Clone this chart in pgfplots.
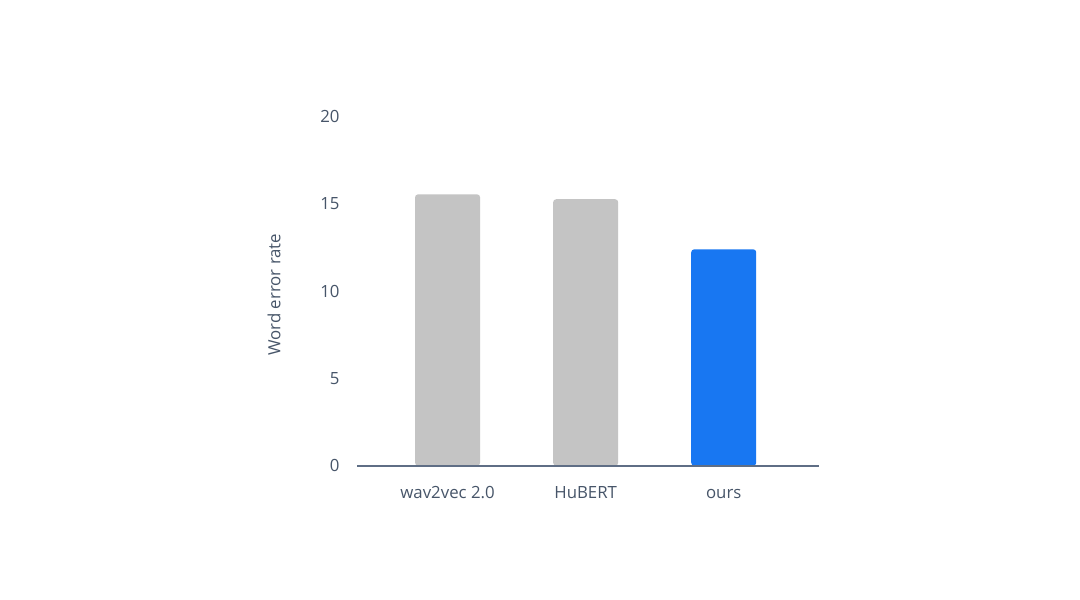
\documentclass[border=0pt]{standalone}
\usepackage{pgfplots}
\pgfplotsset{compat=1.18}
\usepackage{fontspec}
\setmainfont{Open Sans}
\definecolor{txt}{HTML}{475569}
\definecolor{axln}{HTML}{5F6E85}
\definecolor{barg}{HTML}{C4C4C4}
\definecolor{barb}{HTML}{1877F2}
\begin{document}
\begin{tikzpicture}
% canvas: 1 px = 0.5pt, axis box lower-left sits at pixel (357,465.7)
\path[use as bounding box, fill=white] (-178.5pt,-66.65pt) rectangle (361.5pt,232.85pt);
\begin{axis}[
  at={(0,0)}, anchor=south west,
  scale only axis,
  width=231pt, height=174.5pt,
  xmin=-0.656, xmax=2.69,
  ymin=0, ymax=20,
  ytick={0,5,10,15,20},
  xtick={0,1,2},
  xticklabels={wav2vec 2.0, HuBERT, ours},
  /pgf/number format/assume math mode=true,
  axis x line*=bottom, axis y line*=left,
  x axis line style={draw=axln, line width=1pt},
  y axis line style={draw=none},
  major tick length=0pt,
  every tick label/.append style={inner sep=0pt, font=\fontsize{8.4}{10}\selectfont, text=txt},
  yticklabel style={anchor=east, xshift=-8.5pt},
  xticklabel style={anchor=base, yshift=-16.5pt},
  ylabel={Word error rate},
  every axis y label/.style={at={([xshift=-41.5pt]axis description cs:0,0.49)}, rotate=90, anchor=center, font=\fontsize{8.4}{10}\selectfont, text=txt},
  clip=false,
]
\addplot[ybar, bar width=32.5pt, fill=barg, draw=none, rounded corners=1.5pt] coordinates {(0,15.55) (1,15.27)};
\addplot[ybar, bar width=32.5pt, fill=barb, draw=none, rounded corners=1.5pt] coordinates {(2,12.40)};
\draw[axln, line width=1pt] (axis cs:-0.656,0) -- (axis cs:2.69,0);
\end{axis}
\end{tikzpicture}
\end{document}
